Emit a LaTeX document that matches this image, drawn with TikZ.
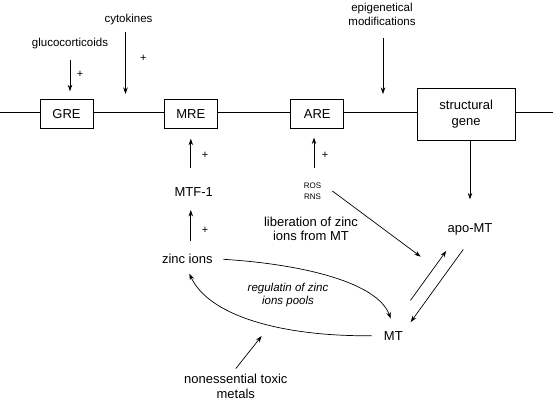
\documentclass[tikz,border=0pt]{standalone}
\usepackage{fontspec}
\setmainfont{Liberation Sans}
\usetikzlibrary{arrows.meta}

\newcommand{\mainsize}{\fontsize{13}{14.5}\selectfont}
\newcommand{\topsize}{\fontsize{11.5}{14}\selectfont}
\newcommand{\smallsize}{\fontsize{8}{11}\selectfont}

\begin{document}
\begin{tikzpicture}[x=1pt, y=-1pt,
    arr/.style={-{Stealth[length=6.5pt,width=4.5pt]}, line width=0.7pt},
    elem/.style={draw, line width=0.8pt, fill=white, minimum width=53pt, minimum height=29pt, inner sep=0pt, font=\mainsize},
    lbl/.style={inner sep=0pt, align=center, font=\mainsize},
    toplbl/.style={inner sep=0pt, align=center, font=\topsize},
    pluslbl/.style={inner sep=0pt, font=\fontsize{11}{11}\selectfont}]
    \useasboundingbox (0,0) rectangle (553,402);

    % DNA strand
    \coordinate (dnaL) at (0,112);
    \coordinate (dnaR) at (553,112);
    \draw[line width=0.8pt] (dnaL) -- (dnaR);

    \node[elem] (gre) at (66.5,113.8) {GRE};
    \node[elem] (mre) at (190.8,113.8) {MRE};
    \node[elem] (are) at (317.3,114) {ARE};
    \node[elem, minimum width=97.7pt, minimum height=51.7pt, align=center] (gene) at (466.2,114.2) {structural\\[1pt]gene};

    % inducers above the strand
    \node[toplbl] (gluc) at (70,43.5) {glucocorticoids};
    \node[toplbl] (cytok) at (128.5,19.5) {cytokines};
    \node[toplbl] (epi) at (382,13.9) {epigenetical\\modifications};

    \draw[arr, shorten <=11pt, shorten >=7.6pt] (gluc.south) -- (gluc.south |- gre.north);
    \draw[arr, shorten <=7pt, shorten >=18pt] ([xshift=-3pt]cytok.south) -- ([xshift=-3pt]cytok.south |- dnaL);
    \draw[arr, shorten <=13pt, shorten >=18pt] ([xshift=1pt]epi.south) -- ([xshift=1pt]epi.south |- dnaL);

    \node[pluslbl] (plus1) at (80,74) {+};
    \node[pluslbl] (plus2) at (143.3,58.3) {+};

    % metal pathway
    \node[lbl] (mtf) at (193.8,191.7) {MTF-1};
    \node[lbl] (zinc) at (187.3,259.3) {zinc ions};
    \node[inner sep=0pt, align=center, font=\smallsize] (ros) at (312.5,191) {ROS\\RNS};
    \node[lbl] (lib) at (311,229) {liberation of zinc\\ions from MT};
    \node[lbl] (apo) at (470,229.7) {apo-MT};
    \node[lbl] (mt) at (393.3,335.7) {MT};
    \node[inner sep=0pt, align=center, font=\topsize\itshape] (regul) at (288,295.3) {regulatin of zinc\\[-0.7pt]ions pools};
    \node[lbl, font=\fontsize{13}{15.5}\selectfont] (toxic) at (235.8,386.3) {nonessential toxic\\metals};

    \draw[arr, shorten <=19pt, shorten >=10pt] (mre.south |- mtf.north) -- (mre.south);
    \draw[arr, shorten <=13pt, shorten >=13.6pt] (mre.south |- zinc.north) -- (mre.south |- mtf.south);
    \draw[arr, shorten <=14.7pt, shorten >=8.7pt] ([xshift=1.5pt]ros.north) -- ([xshift=1.5pt]ros.north |- are.south);
    \draw[arr, shorten >=24.3pt] (apo.north |- gene.south) -- (apo.north);

    \node[pluslbl] (plus3) at (205,155) {+};
    \node[pluslbl] (plus4) at (205,230) {+};
    \node[pluslbl] (plus5) at (325,155) {+};

    % liberation of zinc from MT
    \coordinate (libend) at (420.7,256.7);
    \draw[arr] ([xshift=11pt]ros.east) -- (libend);

    % MT <-> apo-MT
    \draw[arr, shorten <=32.9pt, shorten >=23.7pt, transform canvas={xshift=-5.5pt, yshift=4pt}] (mt) -- (apo);
    \draw[arr, shorten <=12.4pt, shorten >=15.5pt, transform canvas={xshift=4.9pt, yshift=-3.6pt}] (apo) -- (mt);

    % zinc pools
    \draw[arr] ([xshift=10.7pt]zinc.east) .. controls +(80,5) and +(-13,-36) .. ([xshift=-2.6pt, yshift=12.4pt]mt.north);
    \draw[arr] ([xshift=-12.2pt]mt.west) .. controls +(-82,1) and +(21,45) .. ([xshift=2pt, yshift=-9.3pt]zinc.south);

    % toxic metals
    \coordinate (toxend) at (261.7,336);
    \draw[arr] ([yshift=5pt]toxic.north) -- (toxend);
\end{tikzpicture}
\end{document}
